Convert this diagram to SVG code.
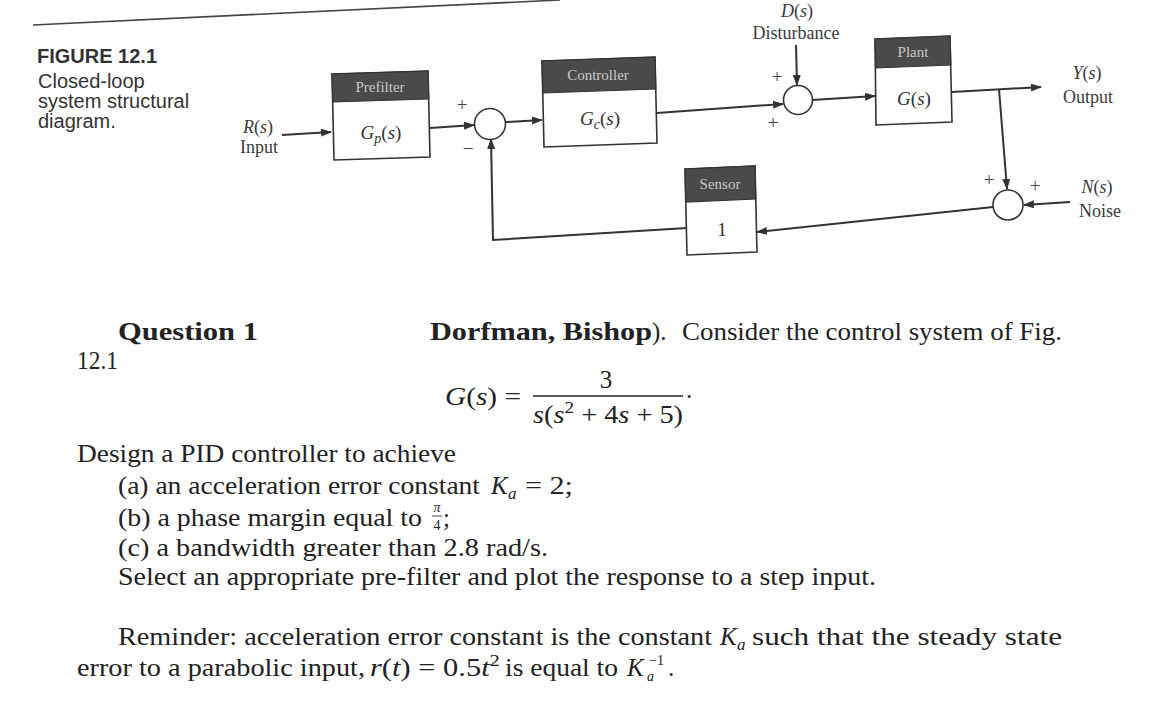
<svg xmlns="http://www.w3.org/2000/svg" width="1169" height="702" viewBox="0 0 1169 702">
<style>
.cap{font-family:"Liberation Sans",Arial,sans-serif;font-size:20px;fill:#333}
.lbl{font-family:"Liberation Serif","Times New Roman",serif;font-size:18px;fill:#3a3a3a;text-anchor:middle}
.hdr{font-family:"Liberation Serif","Times New Roman",serif;font-size:15px;fill:#c8c8c8;text-anchor:middle}
.body{font-family:"Liberation Serif","Times New Roman",serif;font-size:19px;fill:#333;text-anchor:middle}
.sgn{font-family:"Liberation Serif","Times New Roman",serif;font-size:19px;fill:#444;text-anchor:middle}
.box{fill:#fff;stroke:#333;stroke-width:1.6}
.head{fill:#4a4a4a;stroke:#333;stroke-width:1.2}
.sum{fill:#fff;stroke:#333;stroke-width:1.6}
.wire{fill:none;stroke:#333;stroke-width:2}
.arr{marker-end:url(#ah)}
.tx{font-family:"Liberation Serif","Times New Roman",serif;font-size:25px;fill:#222}
.sm{font-size:17px}
.xs{font-size:14px}
.b{font-weight:bold}
.i{font-style:italic}
</style>
<defs>
<marker id="ah" markerUnits="userSpaceOnUse" markerWidth="11" markerHeight="8" refX="10" refY="4" orient="auto">
<path d="M0,0 L11,4 L0,8 Z" fill="#333"/>
</marker>
</defs>
<rect width="1169" height="702" fill="#fff"/>
<line x1="33" y1="25" x2="560" y2="0" stroke="#444" stroke-width="1.6"/>
<g id="caption">
<text class="cap b" x="37" y="63">FIGURE 12.1</text>
<text class="cap" x="38" y="88">Closed-loop</text>
<text class="cap" x="38" y="108">system structural</text>
<text class="cap" x="38" y="128">diagram.</text>
</g>
<g id="connectors">
<path class="wire arr" d="M282,135 L331,132"/>
<path class="wire arr" d="M430,128 L474,125"/>
<path class="wire arr" d="M506,122 L542,120"/>
<path class="wire arr" d="M657,113 L783,104"/>
<path class="wire arr" d="M796,45 L797,85"/>
<path class="wire arr" d="M812,100 L875,96"/>
<path class="wire arr" d="M952,92 L1041,87"/>
<path class="wire arr" d="M999,89 L1007,189"/>
<path class="wire arr" d="M1070,202 L1024,205"/>
<path class="wire arr" d="M993,207 L757,232"/>
<path class="wire arr" d="M687,228 L493,240 L491,139"/>
</g>
<g id="input-label">
<text class="lbl" x="258" y="133"><tspan class="i">R</tspan>(<tspan class="i">s</tspan>)</text>
<text class="lbl" x="259" y="153">Input</text>
</g>
<g id="prefilter">
<polygon class="box" points="332,74 428,71 430,157 334,160"/>
<polygon class="head" points="332,74 428,71 428.8,99 332.8,102"/>
<text class="hdr" x="380" y="92">Prefilter</text>
<text class="body" x="381" y="139"><tspan class="i">G</tspan><tspan class="i xs" dy="4">p</tspan><tspan dy="-4">(</tspan><tspan class="i">s</tspan>)</text>
</g>
<g id="sum1">
<circle class="sum" cx="490" cy="124" r="15.5"/>
<text class="sgn" x="462" y="111">+</text>
<text class="sgn" x="468" y="155">−</text>
</g>
<g id="controller">
<polygon class="box" points="542,61 655,57 657,143 544,147"/>
<polygon class="head" points="542,61 655,57 655.8,89 542.8,93"/>
<text class="hdr" x="598" y="80">Controller</text>
<text class="body" x="600" y="125"><tspan class="i">G</tspan><tspan class="i xs" dy="4">c</tspan><tspan dy="-4">(</tspan><tspan class="i">s</tspan>)</text>
</g>
<g id="disturbance-label">
<text class="lbl" x="797" y="17"><tspan class="i">D</tspan>(<tspan class="i">s</tspan>)</text>
<text class="lbl" x="796" y="39">Disturbance</text>
</g>
<g id="sum2">
<circle class="sum" cx="798" cy="100" r="14.5"/>
<text class="sgn" x="777" y="83">+</text>
<text class="sgn" x="773" y="129">+</text>
</g>
<g id="plant">
<polygon class="box" points="875,39 950,36 952,122 876,125"/>
<polygon class="head" points="875,39 950,36 950.8,65 875.8,68"/>
<text class="hdr" x="913" y="57">Plant</text>
<text class="body" x="914" y="105"><tspan class="i">G</tspan>(<tspan class="i">s</tspan>)</text>
</g>
<g id="output-label">
<text class="lbl" x="1087" y="79"><tspan class="i">Y</tspan>(<tspan class="i">s</tspan>)</text>
<text class="lbl" x="1088" y="103">Output</text>
</g>
<g id="sum3">
<circle class="sum" cx="1008" cy="205" r="15"/>
<text class="sgn" x="989" y="186">+</text>
<text class="sgn" x="1035" y="192">+</text>
</g>
<g id="noise-label">
<text class="lbl" x="1097" y="193"><tspan class="i">N</tspan>(<tspan class="i">s</tspan>)</text>
<text class="lbl" x="1100" y="217">Noise</text>
</g>
<g id="sensor">
<polygon class="box" points="685,169 755,166 757,252 687,255"/>
<polygon class="head" points="685,169 755,166 755.8,199 685.8,202"/>
<text class="hdr" x="720" y="189">Sensor</text>
<text class="body" x="722" y="236">1</text>
</g>
<g id="question">
<text class="tx b" x="118" y="340" textLength="140" lengthAdjust="spacingAndGlyphs">Question  1</text>
<text class="tx b" x="430" y="340" textLength="222" lengthAdjust="spacingAndGlyphs">Dorfman, Bishop</text>
<text class="tx" x="652" y="340">).</text>
<text class="tx" x="682" y="340" textLength="380" lengthAdjust="spacingAndGlyphs">Consider the control system of Fig.</text>
<text class="tx" x="77" y="369" textLength="41" lengthAdjust="spacingAndGlyphs">12.1</text>
<text class="tx" x="445" y="405" textLength="76" lengthAdjust="spacingAndGlyphs"><tspan class="i">G</tspan>(<tspan class="i">s</tspan>) =</text>
<text class="tx" x="606" y="388" text-anchor="middle">3</text>
<line x1="533" y1="396" x2="683" y2="396" stroke="#222" stroke-width="1.3"/>
<text class="tx" x="533" y="423" textLength="150" lengthAdjust="spacingAndGlyphs"><tspan class="i">s</tspan>(<tspan class="i">s</tspan><tspan class="sm" dy="-10">2</tspan><tspan dy="10"> + 4</tspan><tspan class="i">s</tspan> + 5)</text>
<text class="tx" x="686" y="398">.</text>
<text class="tx" x="77" y="462" textLength="379" lengthAdjust="spacingAndGlyphs">Design a PID controller to achieve</text>
<text class="tx" x="118" y="494" textLength="362" lengthAdjust="spacingAndGlyphs">(a) an acceleration error constant</text>
<text class="tx i" x="491" y="494">K</text>
<text class="tx i sm" x="508" y="499">a</text>
<text class="tx" x="525" y="494" textLength="48" lengthAdjust="spacingAndGlyphs">= 2;</text>
<text class="tx" x="118" y="526" textLength="304" lengthAdjust="spacingAndGlyphs">(b) a phase margin equal to</text>
<text class="tx i xs" x="437" y="512" text-anchor="middle">π</text>
<line x1="432" y1="516" x2="442" y2="516" stroke="#222" stroke-width="0.8"/>
<text class="tx xs" x="437" y="530" text-anchor="middle">4</text>
<text class="tx" x="443" y="526">;</text>
<text class="tx" x="118" y="556" textLength="430" lengthAdjust="spacingAndGlyphs">(c) a bandwidth greater than 2.8 rad/s.</text>
<text class="tx" x="118" y="585" textLength="758" lengthAdjust="spacingAndGlyphs">Select an appropriate pre-filter and plot the response to a step input.</text>
<text class="tx" x="118" y="645" textLength="594" lengthAdjust="spacingAndGlyphs">Reminder: acceleration error constant is the constant</text>
<text class="tx i" x="720" y="645">K</text>
<text class="tx i sm" x="737" y="650">a</text>
<text class="tx" x="752" y="645" textLength="310" lengthAdjust="spacingAndGlyphs">such that the steady state</text>
<text class="tx" x="77" y="676" textLength="288" lengthAdjust="spacingAndGlyphs">error to a parabolic input,</text>
<text class="tx" x="370" y="676" textLength="130" lengthAdjust="spacingAndGlyphs"><tspan class="i">r</tspan>(<tspan class="i">t</tspan>) = 0.5<tspan class="i">t</tspan><tspan class="sm" dy="-10">2</tspan></text>
<text class="tx" x="505" y="676" textLength="113" lengthAdjust="spacingAndGlyphs">is equal to</text>
<text class="tx i" x="627" y="676">K</text>
<text class="tx i xs" x="647" y="681">a</text>
<text class="tx xs" x="649" y="665">−1</text>
<text class="tx" x="668" y="676">.</text>
</g>
</svg>
